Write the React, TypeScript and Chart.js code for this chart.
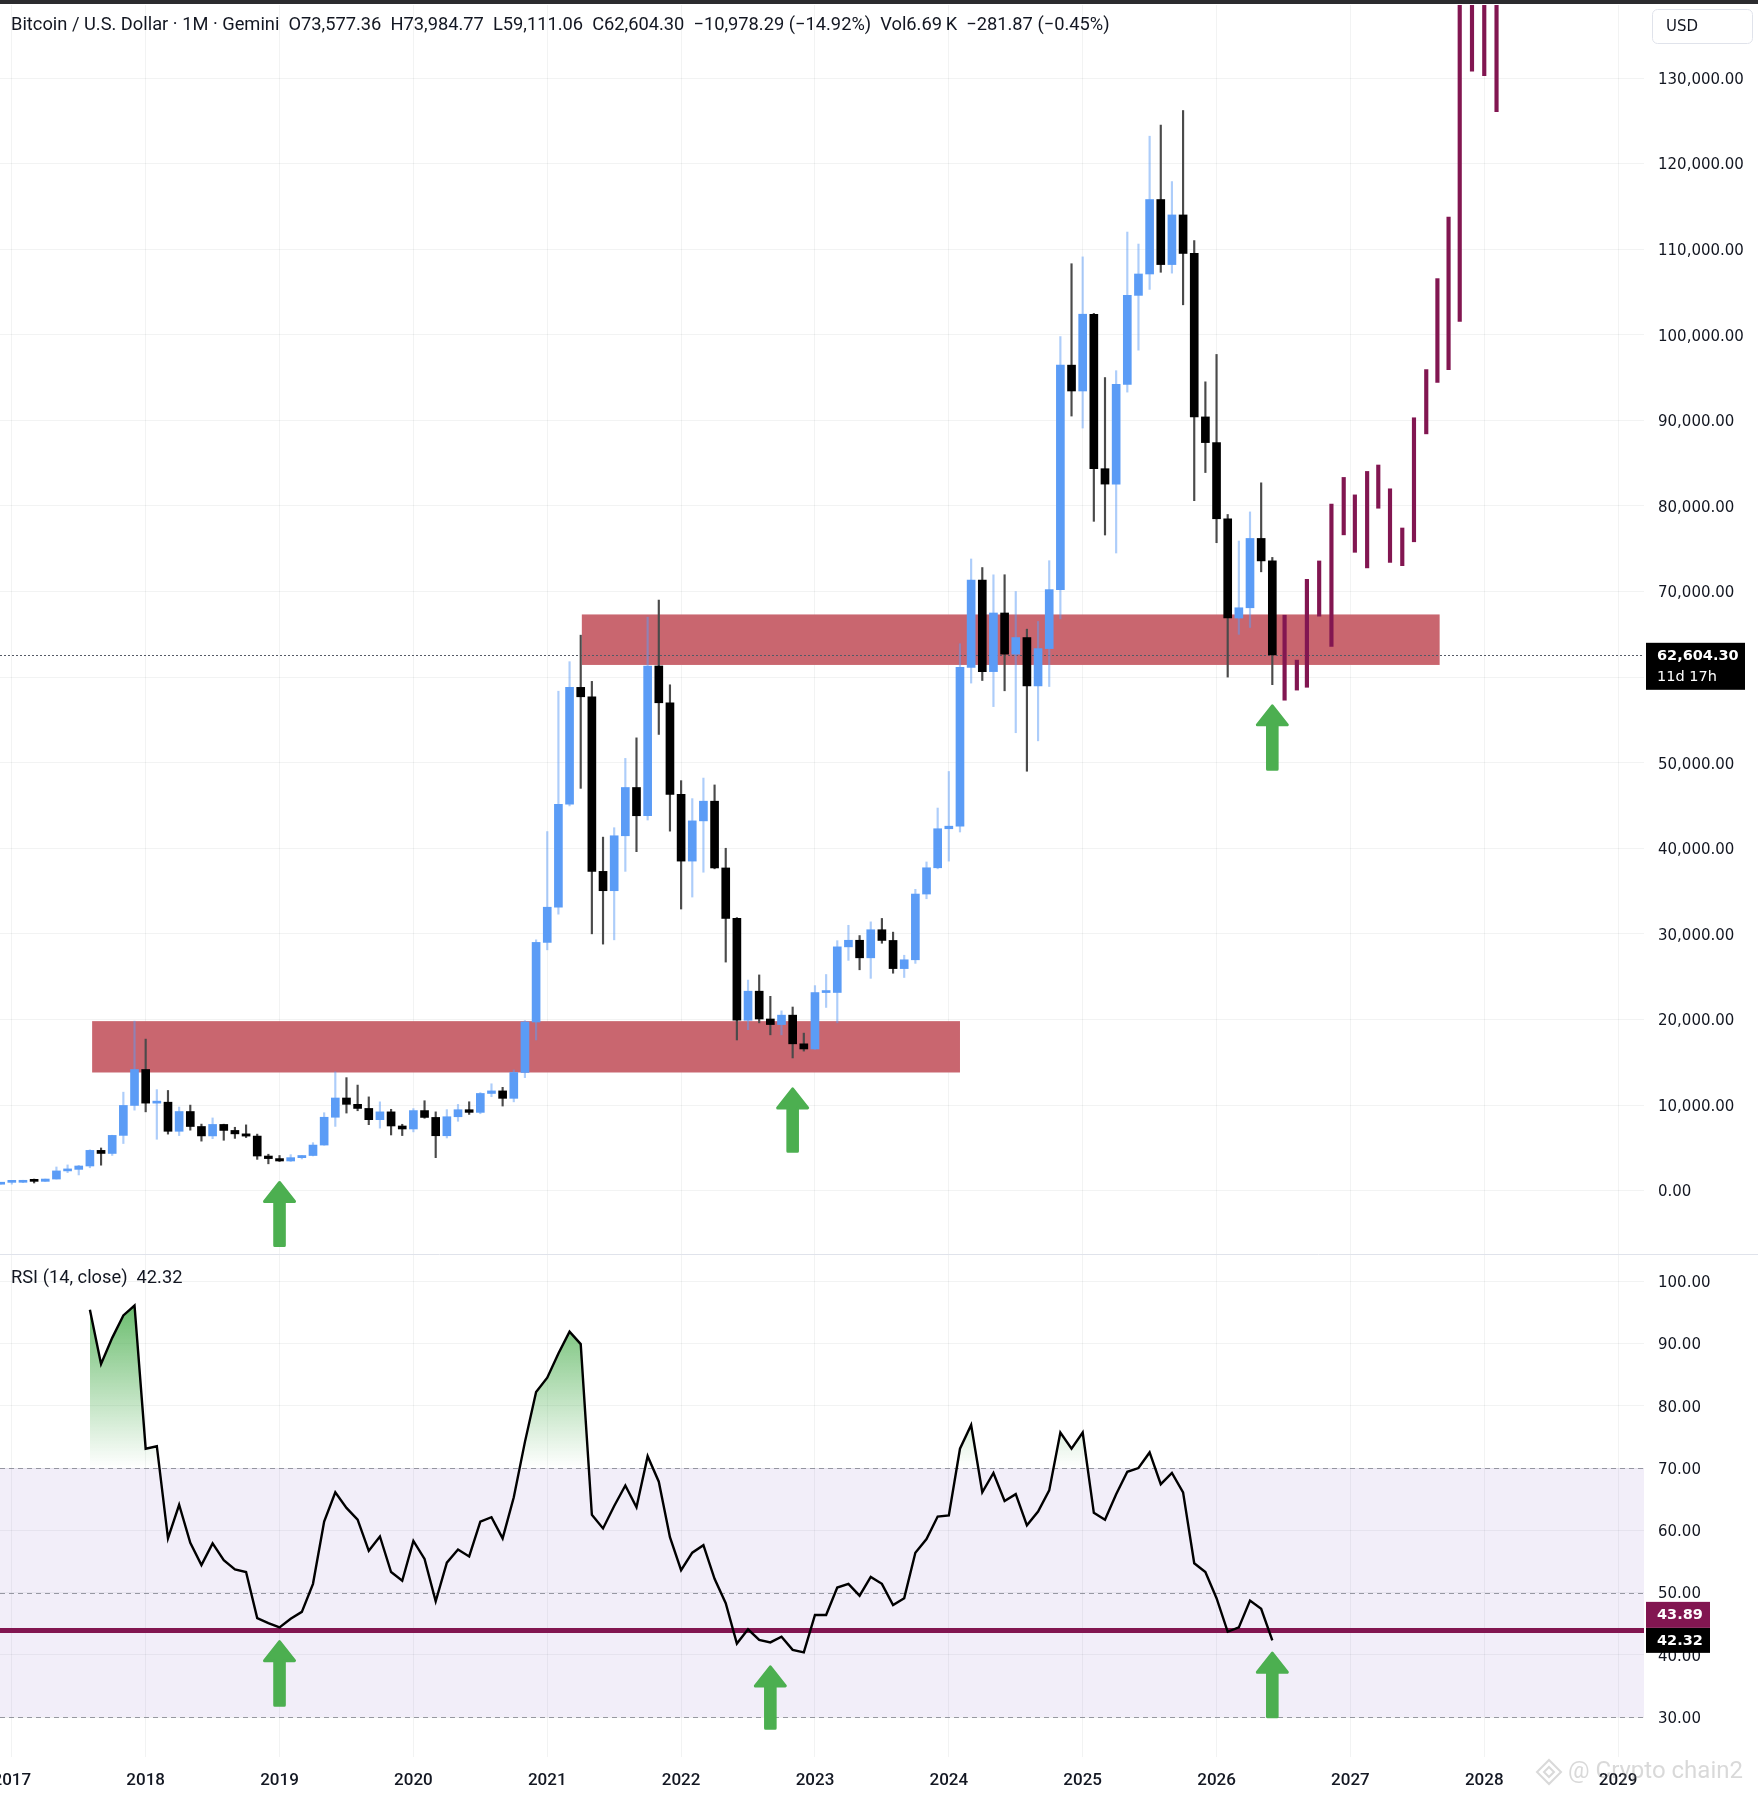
import React, { useEffect, useRef } from 'react';
import { Chart, registerables } from 'chart.js';
Chart.register(...registerables);

// x values are months since Jan 2017 (0 = Jan 2017)
const FIRST_CANDLE_MONTH = -1; // Dec 2016
const opens = [
  746,
  963, 970, 1190, 1080, 1350, 2300, 2480, 2875, 4700, 4340, 6450, 9950,
  14150, 10220, 10330, 6930, 9240, 7490, 6390, 7730, 7030, 6630, 6370, 4040,
  3740, 3460, 3850, 4100, 5320, 8570, 10820, 10080, 9600, 8290, 9200, 7550,
  7200, 9350, 8550, 6410, 8630, 9450, 9140, 11350, 11650, 10780, 13800, 19700,
  29000, 33110, 45140, 58800, 57700, 37300, 35040, 41460, 47100, 43800, 61300, 57000,
  46300, 38500, 43200, 45500, 37700, 31800, 19900, 23300, 20050, 19400, 20500, 17150,
  16550, 23140, 23150, 28480, 29250, 27200, 30480, 29230, 25940, 26970, 34650, 37720,
  42280, 42580, 61130, 71330, 60640, 67490, 62680, 64620, 58970, 63330, 70220, 96450,
  93430, 102400, 84350, 82550, 94200, 104600, 107100, 115800, 108200, 114000, 109500, 90400,
  87400, 78500, 66900, 68100, 76200, 73577.36,
];
const highs = [
  980,
  1150, 1210, 1350, 1350, 2760, 3000, 2950, 4770, 4980, 6470, 11500, 19800,
  17700, 11800, 11700, 9760, 9990, 7770, 8490, 7760, 7400, 7680, 6600, 4250,
  4100, 4200, 4100, 5600, 9100, 13880, 13200, 12330, 10950, 10370, 9500, 7750,
  9580, 10500, 9200, 9460, 10070, 10380, 11450, 12480, 12070, 14100, 19860, 29300,
  41950, 58350, 61800, 64900, 59500, 41300, 42400, 50500, 52900, 67000, 69000, 59100,
  47900, 45800, 48200, 47400, 40000, 31900, 24600, 25200, 22700, 21000, 21450, 18400,
  23950, 25250, 29200, 31000, 29800, 31400, 31800, 30200, 27500, 35200, 38400, 44700,
  48970, 63900, 73800, 72800, 71950, 71960, 70000, 65600, 66500, 73600, 99800, 108300,
  109100, 102500, 95000, 95800, 112000, 110600, 123200, 124500, 117900, 126200, 111000, 94500,
  97700, 79000, 75900, 79300, 82700, 73984.77,
];
const lows = [
  740,
  750, 930, 890, 1060, 1350, 2100, 1830, 2670, 2970, 4110, 5500, 9400,
  9200, 6000, 6600, 6430, 7060, 5780, 6070, 5880, 6100, 6200, 3650, 3130,
  3400, 3400, 3700, 4050, 5300, 7500, 9060, 9330, 7700, 7300, 6500, 6430,
  6860, 8450, 3850, 6150, 8100, 8900, 8980, 10970, 9880, 10370, 13200, 17600,
  28130, 32300, 44950, 47000, 30000, 28800, 29300, 37300, 39600, 43300, 53300, 42000,
  32900, 34300, 37200, 37600, 26700, 17600, 18800, 19600, 18200, 18200, 15500, 16300,
  16500, 21400, 19600, 26900, 25800, 24800, 28900, 25400, 24900, 26550, 34100, 37600,
  38500, 41900, 59300, 59600, 56550, 58400, 53500, 49000, 52550, 58900, 66800, 90500,
  89100, 78200, 76600, 74500, 93300, 98200, 105300, 107300, 107200, 103500, 80600, 83900,
  75700, 60000, 65000, 65800, 72300, 59111.06,
];
const closes = [
  963,
  970, 1190, 1080, 1350, 2300, 2480, 2875, 4700, 4340, 6450, 9950, 14150,
  10220, 10330, 6930, 9240, 7490, 6390, 7730, 7030, 6630, 6370, 4040, 3740,
  3460, 3850, 4100, 5320, 8570, 10820, 10080, 9600, 8290, 9200, 7550, 7200,
  9350, 8550, 6410, 8630, 9450, 9140, 11350, 11650, 10780, 13800, 19700, 29000,
  33110, 45140, 58800, 57700, 37300, 35040, 41460, 47100, 43800, 61300, 57000, 46300,
  38500, 43200, 45500, 37700, 31800, 19900, 23300, 20050, 19400, 20500, 17150, 16550,
  23140, 23150, 28480, 29250, 27200, 30480, 29230, 25940, 26970, 34650, 37720, 42280,
  42580, 61130, 71330, 60640, 67490, 62680, 64620, 58970, 63330, 70220, 96450, 93430,
  102400, 84350, 82550, 94200, 104600, 107100, 115800, 108200, 114000, 109500, 90400, 87400,
  78500, 66900, 68100, 76200, 73577.36, 62604.3,
];

// Projected path (bars pattern), high-low only
const projMonths = [114.1, 115.2, 116.1, 117.2, 118.3, 119.4, 120.4, 121.5, 122.5, 123.55, 124.65, 125.7, 126.8, 127.8, 128.8, 129.8, 130.9, 132.0, 133.1];
const projHighs = [67230, 61980, 71420, 73570, 80220, 83330, 81290, 84030, 84780, 82000, 77420, 90300, 95930, 106560, 113740, 140000, 150000, 150000, 150000];
const projLows = [57300, 58480, 58810, 67120, 63580, 76620, 74580, 72760, 79730, 73400, 73020, 75810, 88420, 94430, 95930, 101570, 130800, 130270, 126080];

// RSI (14, close), monthly, starting Aug 2017
const RSI_FIRST_MONTH = 7;
const rsiValues = [
  95.4, 86.7, 90.9, 94.5, 96.1,
  73.1, 73.5, 58.7, 64.1, 58.0, 54.4, 57.9, 55.2, 53.7, 53.3, 45.9, 45.1,
  44.4, 45.8, 46.9, 51.4, 61.4, 66.1, 63.6, 61.7, 56.7, 59.0, 53.3, 51.9,
  58.3, 55.4, 48.6, 54.8, 56.9, 55.8, 61.4, 62.1, 58.7, 65.3, 74.2, 82.2,
  84.5, 88.4, 91.9, 89.9, 62.5, 60.3, 63.9, 67.2, 63.7, 71.9, 67.8, 58.9,
  53.6, 56.4, 57.6, 52.2, 48.3, 41.8, 44.1, 42.4, 42.0, 42.9, 40.8, 40.4,
  46.4, 46.4, 50.8, 51.4, 49.5, 52.5, 51.4, 48.0, 49.1, 56.4, 58.6, 62.2,
  62.4, 73.1, 76.9, 66.1, 69.2, 64.7, 65.8, 60.8, 63.0, 66.4, 75.7, 73.1,
  75.7, 62.8, 61.7, 65.8, 69.4, 70.0, 72.5, 67.4, 69.2, 66.1, 54.7, 53.3,
  49.1, 43.7, 44.4, 48.7, 47.4, 42.32,
];

// zones (red rectangles)
const zoneStartMonths = [7.2, 51.1];
const zoneEndMonths = [85.0, 128.0];
const zoneTops = [19800, 67320];
const zoneBottoms = [13800, 61420];

// green arrows
const priceArrowMonths = [24, 70, 113];
const priceArrowTips = [1120, 12060, 56820];
const priceArrowBases = [-6590, 4430, 49050];
const rsiArrowMonths = [24, 68, 113];
const rsiArrowTips = [42.35, 38.3, 40.5];
const rsiArrowBases = [31.67, 27.97, 29.8];

const yearTicks = [2017, 2018, 2019, 2020, 2021, 2022, 2023, 2024, 2025, 2026, 2027, 2028, 2029];
const priceTicks = [0, 10000, 20000, 30000, 40000, 50000, 60000, 70000, 80000, 90000, 100000, 110000, 120000, 130000];
const rsiTicks = [30, 40, 50, 60, 70, 80, 90, 100];
const rsiBandLevels = [70, 50, 30];

const LAST_PRICE = 62604.3;
const LAST_RSI = 42.32;
const RSI_LEVEL = 43.89;
const HEADER = 'Bitcoin / U.S. Dollar \u00b7 1M \u00b7 Gemini  O73,577.36  H73,984.77  L59,111.06  C62,604.30  \u221210,978.29 (\u221214.92%)  Vol6.69\u2009K  \u2212281.87 (\u22120.45%)';
const RSI_TITLE = 'RSI (14, close)  42.32';

const UP = '#5b9cf6';
const UP_WICK = 'rgba(91,156,246,0.5)';
const DOWN = '#000000';
const DOWN_WICK = '#4a4a4a';
const MAGENTA = '#821651';
const GREEN = '#4caf50';
const GRID = 'rgba(42,46,57,0.06)';
const TEXT = '#131722';
const FONT = 'Roboto';
const AXIS_FONT = 'DejaVu Sans';

const fmt2 = (v: number) => v.toLocaleString('en-US', { minimumFractionDigits: 2, maximumFractionDigits: 2 });

function drawArrow(ctx: CanvasRenderingContext2D, x: number, yTip: number, yBase: number) {
  const headH = 19;
  const headHalf = 15;
  const shaftHalf = 4.8;
  const t = yTip + 1.5;
  const b = yBase - 1.5;
  ctx.beginPath();
  ctx.moveTo(x, t);
  ctx.lineTo(x + headHalf, t + headH);
  ctx.lineTo(x + shaftHalf, t + headH);
  ctx.lineTo(x + shaftHalf, b);
  ctx.lineTo(x - shaftHalf, b);
  ctx.lineTo(x - shaftHalf, t + headH);
  ctx.lineTo(x - headHalf, t + headH);
  ctx.closePath();
  ctx.fillStyle = GREEN;
  ctx.strokeStyle = GREEN;
  ctx.lineJoin = 'round';
  ctx.lineWidth = 3;
  ctx.fill();
  ctx.stroke();
}

const overlayPlugin = {
  id: 'overlay',
  beforeDatasetsDraw(chart: any) {
    const { ctx, chartArea } = chart;
    const xs = chart.scales.x;
    const ys = chart.scales.y;
    const rs = chart.scales.rsi;
    ctx.save();
    ctx.fillStyle = 'rgb(201,102,111)';
    for (let i = 0; i < zoneStartMonths.length; i++) {
      const x0 = xs.getPixelForValue(zoneStartMonths[i]);
      const x1 = xs.getPixelForValue(zoneEndMonths[i]);
      const y0 = ys.getPixelForValue(zoneTops[i]);
      const y1 = ys.getPixelForValue(zoneBottoms[i]);
      ctx.fillRect(x0, y0, x1 - x0, y1 - y0);
    }
    const lp = Math.round(ys.getPixelForValue(LAST_PRICE)) + 0.5;
    ctx.setLineDash([2, 2]);
    ctx.strokeStyle = '#555a66';
    ctx.lineWidth = 1;
    ctx.beginPath();
    ctx.moveTo(chartArea.left, lp);
    ctx.lineTo(chartArea.right, lp);
    ctx.stroke();
    ctx.setLineDash([]);
    const b70 = rs.getPixelForValue(70);
    const b30 = rs.getPixelForValue(30);
    ctx.fillStyle = 'rgba(126,87,194,0.1)';
    ctx.fillRect(chartArea.left, b70, chartArea.right - chartArea.left, b30 - b70);
    ctx.setLineDash([5, 4]);
    ctx.strokeStyle = 'rgba(120,123,134,0.75)';
    ctx.lineWidth = 1;
    for (const lv of rsiBandLevels) {
      const py = Math.round(rs.getPixelForValue(lv)) + 0.5;
      ctx.beginPath();
      ctx.moveTo(chartArea.left, py);
      ctx.lineTo(chartArea.right, py);
      ctx.stroke();
    }
    ctx.setLineDash([]);
    const ml = rs.getPixelForValue(RSI_LEVEL);
    ctx.strokeStyle = MAGENTA;
    ctx.lineWidth = 5;
    ctx.beginPath();
    ctx.moveTo(chartArea.left, ml);
    ctx.lineTo(chartArea.right, ml);
    ctx.stroke();
    ctx.restore();
  },
  afterDatasetsDraw(chart: any) {
    const { ctx } = chart;
    const xs = chart.scales.x;
    const ys = chart.scales.y;
    const rs = chart.scales.rsi;
    ctx.save();
    for (let i = 0; i < priceArrowMonths.length; i++) {
      drawArrow(ctx, xs.getPixelForValue(priceArrowMonths[i]), ys.getPixelForValue(priceArrowTips[i]), ys.getPixelForValue(priceArrowBases[i]));
    }
    for (let i = 0; i < rsiArrowMonths.length; i++) {
      drawArrow(ctx, xs.getPixelForValue(rsiArrowMonths[i]), rs.getPixelForValue(rsiArrowTips[i]), rs.getPixelForValue(rsiArrowBases[i]));
    }
    ctx.restore();
  },
  afterDraw(chart: any) {
    const { ctx, chartArea, width } = chart;
    const ys = chart.scales.y;
    const rs = chart.scales.rsi;
    ctx.save();
    ctx.fillStyle = '#2b2b2e';
    ctx.fillRect(0, 0, width, 4);
    const sep = Math.round(ys.bottom) + 0.5;
    ctx.strokeStyle = '#e0e3eb';
    ctx.lineWidth = 1;
    ctx.beginPath();
    ctx.moveTo(0, sep);
    ctx.lineTo(width, sep);
    ctx.stroke();
    // header texts
    ctx.fillStyle = TEXT;
    ctx.textBaseline = 'middle';
    ctx.textAlign = 'left';
    ctx.font = `18.3px ${FONT}`;
    ctx.fillText(HEADER, 11, 25);
    ctx.fillText(RSI_TITLE, 11, 1278);
    // USD box
    ctx.strokeStyle = '#e0e3eb';
    ctx.fillStyle = '#ffffff';
    ctx.beginPath();
    ctx.roundRect(1652.5, 9.5, 100, 34, 5);
    ctx.fill();
    ctx.stroke();
    ctx.fillStyle = TEXT;
    ctx.font = `15px ${AXIS_FONT}`;
    ctx.fillText('USD', 1666, 27);
    // last price label
    const ax = chartArea.right + 2;
    const lp = ys.getPixelForValue(LAST_PRICE);
    ctx.fillStyle = '#000000';
    ctx.fillRect(ax, lp - 12, 99, 47);
    ctx.fillStyle = '#ffffff';
    ctx.font = `bold 14.5px ${AXIS_FONT}`;
    ctx.fillText(fmt2(LAST_PRICE), ax + 11, lp + 1);
    ctx.font = `14.5px ${AXIS_FONT}`;
    ctx.fillText('11d 17h', ax + 11, lp + 22);
    // RSI labels
    const rp = rs.getPixelForValue(LAST_RSI);
    ctx.fillStyle = '#000000';
    ctx.fillRect(ax, rp - 12.5, 64, 25);
    ctx.fillStyle = MAGENTA;
    ctx.fillRect(ax, rp - 38.5, 64, 26);
    ctx.fillStyle = '#ffffff';
    ctx.font = `bold 14.5px ${AXIS_FONT}`;
    ctx.fillText(fmt2(LAST_RSI), ax + 11, rp + 1);
    ctx.fillText(fmt2(RSI_LEVEL), ax + 11, rp - 25);
    // watermark
    ctx.globalAlpha = 0.3;
    ctx.fillStyle = '#808080';
    ctx.strokeStyle = '#808080';
    ctx.lineWidth = 2;
    const wx = 1549;
    const wy = 1772;
    ctx.beginPath();
    ctx.moveTo(wx, wy - 12);
    ctx.lineTo(wx + 12, wy);
    ctx.lineTo(wx, wy + 12);
    ctx.lineTo(wx - 12, wy);
    ctx.closePath();
    ctx.stroke();
    ctx.beginPath();
    ctx.moveTo(wx, wy - 5);
    ctx.lineTo(wx + 5, wy);
    ctx.lineTo(wx, wy + 5);
    ctx.lineTo(wx - 5, wy);
    ctx.closePath();
    ctx.stroke();
    ctx.font = `24px ${FONT}`;
    ctx.fillText('@ Crypto chain2', 1568, wy);
    ctx.restore();
  },
};

export default function App() {
  const ref = useRef<HTMLCanvasElement>(null);
  useEffect(() => {
    document.body.style.margin = '0';
    const canvas = ref.current;
    if (!canvas) return;
    const candleX = opens.map((_, i) => FIRST_CANDLE_MONTH + i);
    const isUp = opens.map((o, i) => closes[i] >= o);
    const wickData = candleX.map((x, i) => ({ x, y: [lows[i], highs[i]] }));
    const bodyData = candleX.map((x, i) => ({ x, y: [opens[i], closes[i]] }));
    const projData = projMonths.map((x, i) => ({ x, y: [projLows[i], projHighs[i]] }));
    const rsiData = rsiValues.map((v, i) => ({ x: RSI_FIRST_MONTH + i, y: v }));

    Chart.defaults.font.family = FONT;

    const chart = new Chart(canvas, {
      type: 'bar',
      data: {
        datasets: [
          {
            type: 'bar',
            data: wickData as any,
            xAxisID: 'x',
            yAxisID: 'y',
            backgroundColor: isUp.map((u) => (u ? UP_WICK : DOWN_WICK)),
            borderWidth: 0,
            barThickness: 1.5,
            grouped: false,
            order: 3,
          },
          {
            type: 'bar',
            data: bodyData as any,
            xAxisID: 'x',
            yAxisID: 'y',
            backgroundColor: isUp.map((u) => (u ? UP : DOWN)),
            borderWidth: 0,
            barThickness: 8,
            minBarLength: 2,
            grouped: false,
            order: 2,
          },
          {
            type: 'bar',
            data: projData as any,
            xAxisID: 'x',
            yAxisID: 'y',
            backgroundColor: MAGENTA,
            borderWidth: 0,
            barThickness: 3.5,
            grouped: false,
            order: 1,
          },
          {
            type: 'line',
            data: rsiData as any,
            xAxisID: 'x',
            yAxisID: 'rsi',
            borderColor: '#000000',
            borderWidth: 2.4,
            pointRadius: 0,
            tension: 0,
            fill: { target: { value: 70 }, below: 'rgba(0,0,0,0)' } as any,
            backgroundColor: (c: any) => {
              const ch = c.chart;
              const s = ch.scales.rsi;
              if (!ch.chartArea || !s) return 'rgba(0,0,0,0)';
              const g = ch.ctx.createLinearGradient(0, s.getPixelForValue(100), 0, s.getPixelForValue(70));
              g.addColorStop(0, 'rgba(76,175,80,0.95)');
              g.addColorStop(1, 'rgba(76,175,80,0)');
              return g;
            },
            order: 0,
          } as any,
        ],
      },
      options: {
        responsive: false,
        animation: false,
        devicePixelRatio: 1,
        events: [],
        layout: { padding: { top: 5, left: 0, right: 0, bottom: 0 } },
        plugins: { legend: { display: false }, tooltip: { enabled: false } },
        scales: {
          x: {
            type: 'linear',
            min: -1.059,
            max: 146.32,
            offset: false,
            position: 'bottom',
            grid: { color: GRID, drawTicks: false, offset: false },
            border: { display: false },
            ticks: {
              autoSkip: false,
              maxRotation: 0,
              padding: 14,
              color: TEXT,
              font: { size: 17, weight: 500 as any, family: FONT },
              callback: (v: any) => String(2017 + Math.round(Number(v) / 12)),
            },
            afterBuildTicks: (s: any) => {
              s.ticks = yearTicks.map((yr) => ({ value: (yr - 2017) * 12 }));
            },
            afterFit: (s: any) => {
              s.height = 41;
              s.paddingLeft = 0;
              s.paddingRight = 0;
            },
          },
          y: {
            type: 'linear',
            position: 'right',
            stack: 'panes',
            stackWeight: 1249,
            min: -7408,
            max: 138530,
            grid: { color: GRID, drawTicks: false },
            border: { display: false },
            ticks: {
              padding: 14,
              labelOffset: 2,
              color: TEXT,
              font: { size: 15, family: AXIS_FONT },
              callback: (v: any) => fmt2(Number(v)),
            },
            afterBuildTicks: (s: any) => {
              s.ticks = priceTicks.map((v) => ({ value: v }));
            },
            afterFit: (s: any) => {
              s.width = 114;
              s.paddingTop = 0;
              s.paddingBottom = 0;
            },
          },
          rsi: {
            type: 'linear',
            position: 'right',
            stack: 'panes',
            stackWeight: 503,
            min: 23.59,
            max: 104.37,
            grid: { color: GRID, drawTicks: false },
            border: { display: false },
            ticks: {
              padding: 14,
              labelOffset: 2,
              color: TEXT,
              font: { size: 15, family: AXIS_FONT },
              callback: (v: any) => fmt2(Number(v)),
            },
            afterBuildTicks: (s: any) => {
              s.ticks = rsiTicks.map((v) => ({ value: v }));
            },
            afterFit: (s: any) => {
              s.width = 114;
              s.paddingTop = 0;
              s.paddingBottom = 0;
            },
          },
        } as any,
      },
      plugins: [overlayPlugin as any],
    });
    return () => chart.destroy();
  }, []);

  return (
    <div style={{ width: 1758, height: 1798, background: '#ffffff' }}>
      <canvas ref={ref} width={1758} height={1798} style={{ display: 'block', width: 1758, height: 1798 }} />
    </div>
  );
}
